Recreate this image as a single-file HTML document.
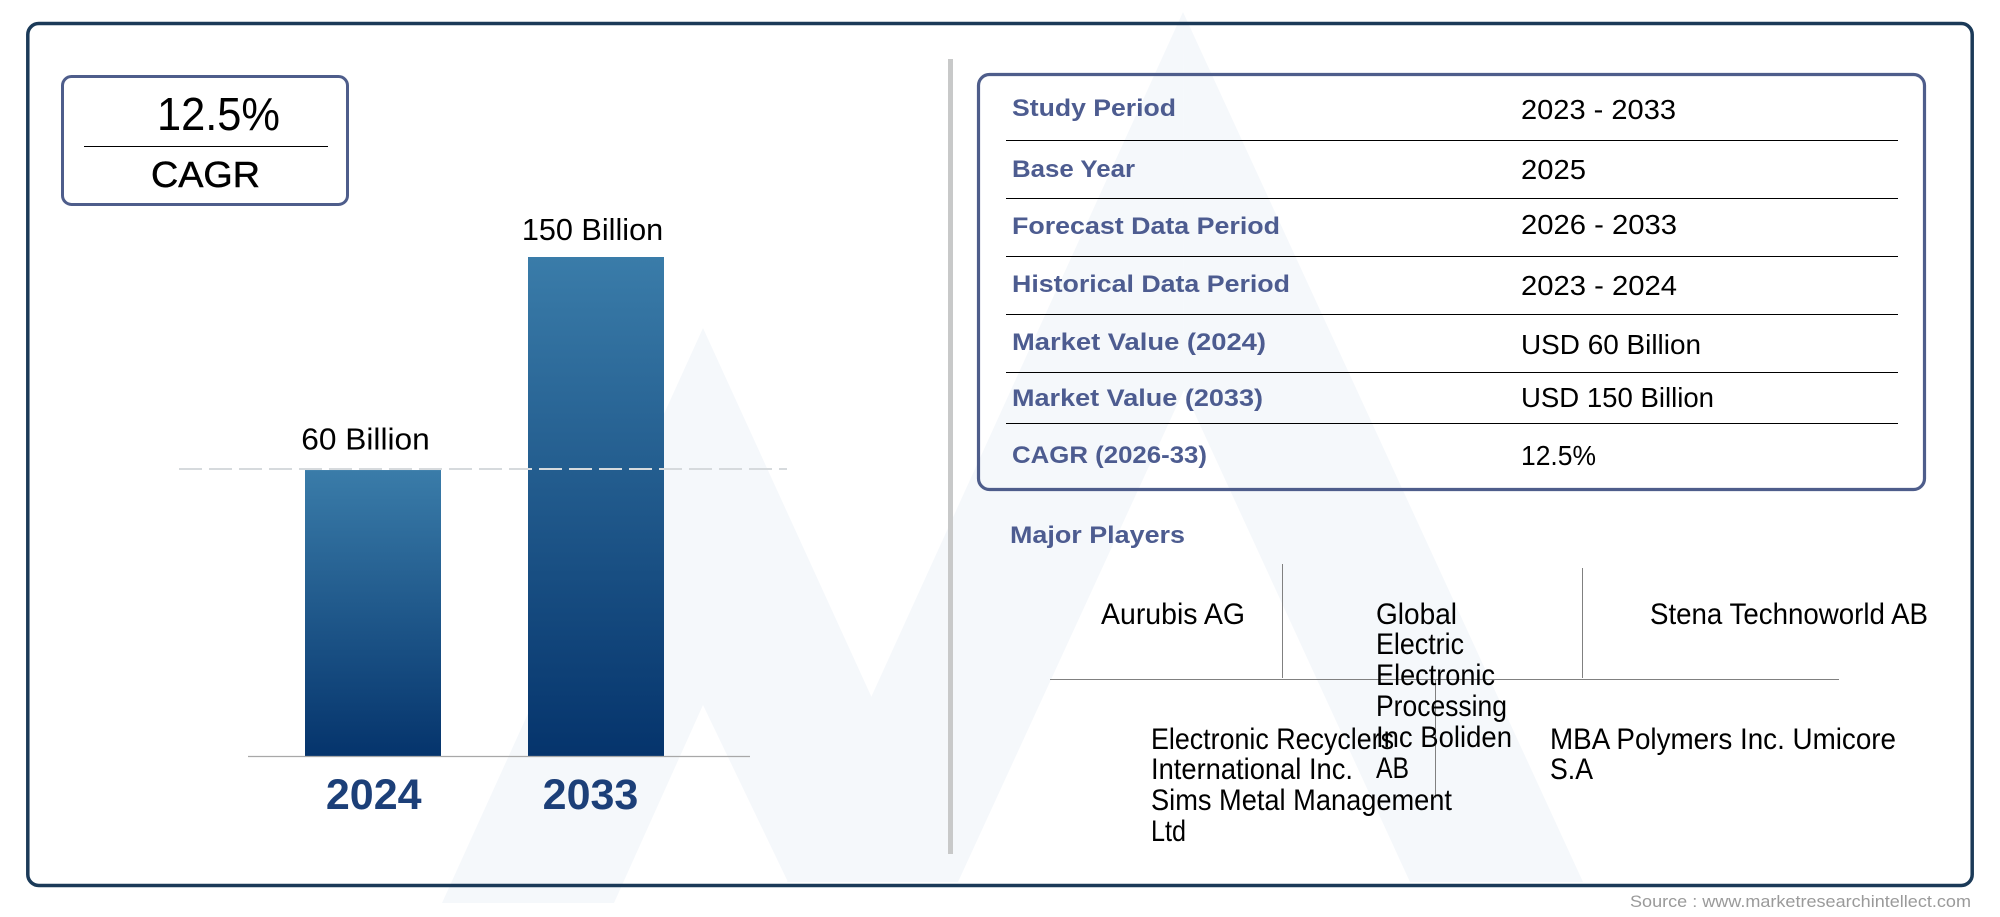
<!DOCTYPE html>
<html lang="en">
<head>
<meta charset="utf-8">
<title>Market overview</title>
<style>
html,body{margin:0;padding:0;background:#fff;}
svg{display:block;}
text{font-family:"Liberation Sans",sans-serif;}
.lab{font-weight:700;font-size:24px;fill:#4d5c90;}
.val{font-size:28px;fill:#000;}
.pl{font-size:30px;fill:#000;}
</style>
</head>
<body>
<svg id="root" xmlns="http://www.w3.org/2000/svg" width="2000" height="917" viewBox="0 0 2000 917">
  <defs>
    <linearGradient id="barGrad" x1="0" y1="0" x2="0" y2="1">
      <stop offset="0" stop-color="#3a7ca9"/>
      <stop offset="1" stop-color="#05346c"/>
    </linearGradient>
  </defs>

  <g fill="#f5f8fb">
    <polygon points="703,328 442,903 614,903 703,705"/>
    <polygon points="703,328 703,705 788,882 956,882"/>
    <polygon points="1183,12 787,882 958,882 1184,390"/>
    <polygon points="1183,12 1184,390 1410,882 1583,882"/>
  </g>

  <rect x="27.8" y="23.5" width="1944.4" height="862" rx="11" fill="none" stroke="#1b3a58" stroke-width="3.5"/>

  <g>
    <rect x="62.5" y="76.5" width="285" height="128" rx="9" fill="none" stroke="#4e5d8b" stroke-width="3"/>
    <text x="157" y="130" font-size="46" textLength="123" lengthAdjust="spacingAndGlyphs" fill="#000">12.5%</text>
    <line x1="84" y1="146.5" x2="328" y2="146.5" stroke="#000" stroke-width="1"/>
    <text x="151" y="187" font-size="36" textLength="109" lengthAdjust="spacingAndGlyphs" fill="#000" stroke="#000" stroke-width="0.5">CAGR</text>
  </g>

  <g id="chart"></g>

  <rect x="948" y="59" width="5" height="795" fill="#c8c9c9"/>

  <g>
    <rect x="978.5" y="74.5" width="946" height="415" rx="11" fill="none" stroke="#4e5d8b" stroke-width="3.2"/>
    <g stroke="#000" stroke-width="1">
      <line x1="1006" y1="140.5" x2="1898" y2="140.5"/>
      <line x1="1006" y1="198.5" x2="1898" y2="198.5"/>
      <line x1="1006" y1="256.5" x2="1898" y2="256.5"/>
      <line x1="1006" y1="314.5" x2="1898" y2="314.5"/>
      <line x1="1006" y1="372.5" x2="1898" y2="372.5"/>
      <line x1="1006" y1="423.5" x2="1898" y2="423.5"/>
    </g>
    <text class="lab" x="1012" y="116" textLength="164" lengthAdjust="spacingAndGlyphs">Study Period</text>
    <text class="val" x="1521" y="119" textLength="155" lengthAdjust="spacingAndGlyphs">2023 - 2033</text>
    <text class="lab" x="1012" y="177" textLength="123" lengthAdjust="spacingAndGlyphs">Base Year</text>
    <text class="val" x="1521" y="179" textLength="65" lengthAdjust="spacingAndGlyphs">2025</text>
    <text class="lab" x="1012" y="234" textLength="268" lengthAdjust="spacingAndGlyphs">Forecast Data Period</text>
    <text class="val" x="1521" y="234" textLength="156" lengthAdjust="spacingAndGlyphs">2026 - 2033</text>
    <text class="lab" x="1012" y="292" textLength="278" lengthAdjust="spacingAndGlyphs">Historical Data Period</text>
    <text class="val" x="1521" y="295" textLength="156" lengthAdjust="spacingAndGlyphs">2023 - 2024</text>
    <text class="lab" x="1012" y="350" textLength="254" lengthAdjust="spacingAndGlyphs">Market Value (2024)</text>
    <text class="val" x="1521" y="354" textLength="180" lengthAdjust="spacingAndGlyphs">USD 60 Billion</text>
    <text class="lab" x="1012" y="406" textLength="251" lengthAdjust="spacingAndGlyphs">Market Value (2033)</text>
    <text class="val" x="1521" y="407" textLength="193" lengthAdjust="spacingAndGlyphs">USD 150 Billion</text>
    <text class="lab" x="1012" y="463" textLength="195" lengthAdjust="spacingAndGlyphs">CAGR (2026-33)</text>
    <text class="val" x="1521" y="465" textLength="75" lengthAdjust="spacingAndGlyphs">12.5%</text>
  </g>

  <g>
    <text class="lab" x="1010" y="543" textLength="175" lengthAdjust="spacingAndGlyphs">Major Players</text>
    <g stroke="#808080" stroke-width="1">
      <line x1="1282.5" y1="564" x2="1282.5" y2="678"/>
      <line x1="1582.5" y1="568" x2="1582.5" y2="678"/>
      <line x1="1050" y1="679.5" x2="1839" y2="679.5"/>
      <line x1="1435.5" y1="680" x2="1435.5" y2="798"/>
    </g>
    <text class="pl" x="1101" y="624" textLength="144" lengthAdjust="spacingAndGlyphs">Aurubis AG</text>
    <g>
      <text class="pl" x="1376" y="624" textLength="81" lengthAdjust="spacingAndGlyphs">Global</text>
      <text class="pl" x="1376" y="654" textLength="88" lengthAdjust="spacingAndGlyphs">Electric</text>
      <text class="pl" x="1376" y="685" textLength="119" lengthAdjust="spacingAndGlyphs">Electronic</text>
      <text class="pl" x="1376" y="716" textLength="131" lengthAdjust="spacingAndGlyphs">Processing</text>
      <text class="pl" x="1376" y="747" textLength="136" lengthAdjust="spacingAndGlyphs">Inc Boliden</text>
      <text class="pl" x="1376" y="778" textLength="33" lengthAdjust="spacingAndGlyphs">AB</text>
    </g>
    <text class="pl" x="1650" y="624" textLength="278" lengthAdjust="spacingAndGlyphs">Stena Technoworld AB</text>
    <g>
      <text class="pl" x="1151" y="749" textLength="243" lengthAdjust="spacingAndGlyphs">Electronic Recyclers</text>
      <text class="pl" x="1151" y="779" textLength="202" lengthAdjust="spacingAndGlyphs">International Inc.</text>
      <text class="pl" x="1151" y="810" textLength="301" lengthAdjust="spacingAndGlyphs">Sims Metal Management</text>
      <text class="pl" x="1151" y="841" textLength="35" lengthAdjust="spacingAndGlyphs">Ltd</text>
    </g>
    <g>
      <text class="pl" x="1550" y="749" textLength="346" lengthAdjust="spacingAndGlyphs">MBA Polymers Inc. Umicore</text>
      <text class="pl" x="1550" y="779" textLength="43" lengthAdjust="spacingAndGlyphs">S.A</text>
    </g>
  </g>

  <text x="1630" y="907" font-size="17" textLength="341" lengthAdjust="spacingAndGlyphs" fill="#9a9a9a">Source : www.marketresearchintellect.com</text>
</svg>

<script>
const categories = ['2024', '2033'];
const marketValues = [60, 150];
const valueLabels = ['60 Billion', '150 Billion'];

const NS = 'http://www.w3.org/2000/svg';
const chart = document.getElementById('chart');

const plotBaseline = 756;
const plotTop = 257;
const domainLow = -60.8;
const domainHigh = 150;

function yScale(v) {
  return plotBaseline - (v - domainLow) / (domainHigh - domainLow) * (plotBaseline - plotTop);
}
function barLeft(i) { return 305 + i * 223; }
function valueLabelX(i) { return 365.5 + i * 227; }
function categoryLabelX(i) { return 373.7 + i * 216.8; }
function valueLabelY(v) { return yScale(v) - 20.5 + (v - 60) / 90 * 3.5; }
const barWidth = 136;

categories.forEach(function (cat, i) {
  const top = yScale(marketValues[i]);

  const bar = document.createElementNS(NS, 'rect');
  bar.setAttribute('x', barLeft(i));
  bar.setAttribute('y', top);
  bar.setAttribute('width', barWidth);
  bar.setAttribute('height', plotBaseline - top);
  bar.setAttribute('fill', 'url(#barGrad)');
  
  
  chart.appendChild(bar);

  const val = document.createElementNS(NS, 'text');
  val.setAttribute('x', valueLabelX(i));
  val.setAttribute('y', valueLabelY(marketValues[i]));
  val.setAttribute('text-anchor', 'middle');
  val.setAttribute('font-size', '31');
  val.setAttribute('fill', '#000');
  val.setAttribute('textLength', valueLabels[i].length * 12.85);
  val.setAttribute('lengthAdjust', 'spacingAndGlyphs');
  
  
  val.textContent = valueLabels[i];
  chart.appendChild(val);

  const year = document.createElementNS(NS, 'text');
  year.setAttribute('x', categoryLabelX(i));
  year.setAttribute('y', 809);
  year.setAttribute('text-anchor', 'middle');
  year.setAttribute('font-size', '43');
  year.setAttribute('font-weight', '700');
  year.setAttribute('fill', '#1c3f78');
  
  
  year.textContent = cat;
  chart.appendChild(year);
});

const refLine = document.createElementNS(NS, 'line');
refLine.setAttribute('x1', 179);
refLine.setAttribute('x2', 787);
refLine.setAttribute('y1', 469);
refLine.setAttribute('y2', 469);
refLine.setAttribute('stroke', '#d6dadd');
refLine.setAttribute('stroke-width', '2');
refLine.setAttribute('stroke-dasharray', '23 7');


chart.appendChild(refLine);

const axisLine = document.createElementNS(NS, 'line');
axisLine.setAttribute('x1', 248);
axisLine.setAttribute('x2', 750);
axisLine.setAttribute('y1', 756.5);
axisLine.setAttribute('y2', 756.5);
axisLine.setAttribute('stroke', '#a8a8a8');
axisLine.setAttribute('stroke-width', '1.2');


chart.appendChild(axisLine);
</script>
</body>
</html>
